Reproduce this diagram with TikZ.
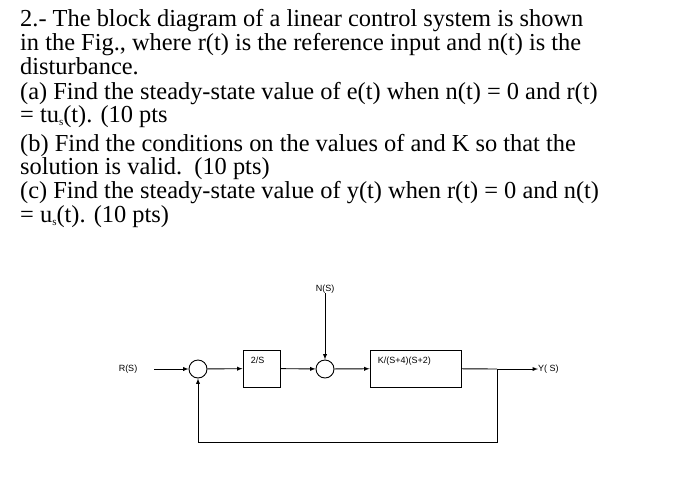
\documentclass[tikz,border=0pt]{standalone}
\usepackage{fontspec}
\setmainfont{Liberation Serif}
\newfontfamily\dsf{Liberation Sans}
\begin{document}
\begin{tikzpicture}[x=1pt,y=-1pt,
  txt/.style={anchor=base west,inner sep=0,font=\fontsize{24.4}{26}\selectfont},
  lbl/.style={inner sep=0,font=\dsf\fontsize{9}{10}\selectfont},
  blk/.style={draw,line width=0.9pt,minimum width=37pt,minimum height=37pt,inner sep=0},
  sm/.style={draw,line width=0.9pt,circle,minimum size=18pt,inner sep=0},
  arr/.style={-latex,line width=0.9pt},
  ln/.style={line width=0.9pt}]
\useasboundingbox (0,0) rectangle (700,498);
\node[txt] (t1) at (20,26) {2.- The block diagram of a linear control system is shown};
\node[txt] (t2) at (20,50) {in the Fig., where r(t) is the reference input and n(t) is the};
\node[txt] (t3) at (20,74) {disturbance.};
\node[txt] (t4) at (20,99) {(a) Find the steady-state value of e(t) when n(t) = 0 and r(t)};
\node[txt] (t5) at (20,122) {= tu\raisebox{-0.3ex}{\fontsize{11}{12}\selectfont s}(t). (10 pts};
\node[txt] (t6) at (20,151) {(b) Find the conditions on the values of and K so that the};
\node[txt] (t7) at (20,174) {solution is valid.\enspace (10 pts)};
\node[txt] (t8) at (20,198) {(c) Find the steady-state value of y(t) when r(t) = 0 and n(t)};
\node[txt] (t9) at (20,222) {= u\raisebox{-0.3ex}{\fontsize{11}{12}\selectfont s}(t). (10 pts)};
% diagram
\node[lbl] (R) at (128,369) {R(S)};
\node[sm] (s1) at (198,369) {};
\node[blk] (g1) at (261.5,368.5) {};
\node[lbl,anchor=north west] at (g1.north west) [xshift=8pt,yshift=-7pt] {2/S};
\node[sm] (s2) at (325,369) {};
\node[blk,minimum width=91pt] (g2) at (415.5,368.5) {};
\node[lbl,anchor=north west] at (g2.north west) [xshift=8pt,yshift=-7pt] {K/(S+4)(S+2)};
\node[lbl] (N) at (325,289) {N(S)};
\node[lbl,anchor=west] (Y) at (538,369) {Y( S)};
\coordinate (sp) at (497,369);
\coordinate (bt) at (497,442);
\coordinate (bl) at (198,442);
\coordinate (rs) at (154,369);
\draw[arr] (rs) -- (s1);
\draw[arr] (s1) -- (g1);
\draw[arr] (g1) -- (s2);
\draw[arr] (s2) -- (g2);
\draw[ln] (g2) -- (sp);
\draw[arr] (sp) -- (Y);
\draw[arr] (N) -- (s2);
\draw[arr] (sp) -- (bt) -- (bl) -- (s1);
\end{tikzpicture}
\end{document}
